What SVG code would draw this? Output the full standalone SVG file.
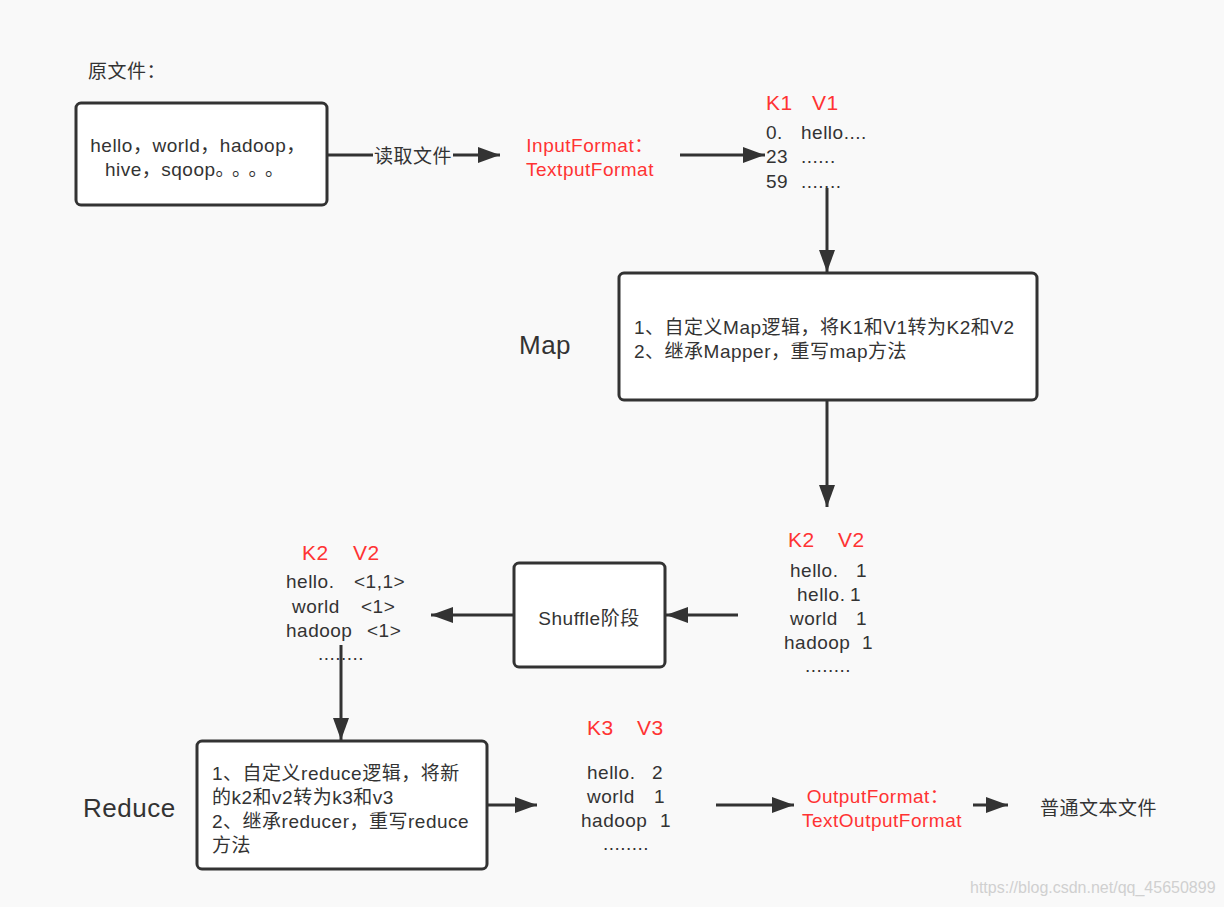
<svg xmlns="http://www.w3.org/2000/svg" width="1224" height="907" viewBox="0 0 1224 907">
<defs>
<style>
text{font-family:"Liberation Sans","Noto Sans CJK SC",sans-serif;fill:#333;font-size:19px;letter-spacing:0.5px}
.red{fill:#ff3333}
.big{font-size:21px}
.title{font-size:26px}
.c{text-anchor:middle}
.box{fill:#fff;stroke:#333;stroke-width:3}
.edge{stroke:#333;stroke-width:3;fill:none}
.wm{fill:#d0d0d0;font-size:16px;letter-spacing:0}
</style>
<marker id="arr" markerWidth="24" markerHeight="16" refX="22" refY="8" orient="auto" markerUnits="userSpaceOnUse">
<path d="M0,0 L22,8 L0,16 Z" fill="#333"/>
</marker>
</defs>
<rect width="1224" height="907" fill="#f9f9f9"/>

<g id="connectors">
<line class="edge" x1="327" y1="155" x2="500" y2="155" marker-end="url(#arr)"/>
<line class="edge" x1="680" y1="155" x2="765" y2="155" marker-end="url(#arr)"/>
<line class="edge" x1="827" y1="188" x2="827" y2="272" marker-end="url(#arr)"/>
<line class="edge" x1="827" y1="400" x2="827" y2="507" marker-end="url(#arr)"/>
<line class="edge" x1="738" y1="615" x2="666" y2="615" marker-end="url(#arr)"/>
<line class="edge" x1="514" y1="615" x2="431" y2="615" marker-end="url(#arr)"/>
<line class="edge" x1="341" y1="645" x2="341" y2="740" marker-end="url(#arr)"/>
<line class="edge" x1="487" y1="805" x2="537" y2="805" marker-end="url(#arr)"/>
<line class="edge" x1="716" y1="805" x2="794" y2="805" marker-end="url(#arr)"/>
<line class="edge" x1="973" y1="805" x2="1008" y2="805" marker-end="url(#arr)"/>
<rect x="373" y="143" width="80" height="24" fill="#f9f9f9"/>
<text x="413" y="163" class="c">读取文件</text>
</g>

<g id="source-label"><text x="88" y="78">原文件：</text></g>

<g id="source">
<rect class="box" x="76" y="103" width="251" height="102" rx="5"/>
<text x="198" y="152" class="c">hello，world，hadoop，</text>
<text x="198" y="176" class="c">hive，sqoop<tspan style="letter-spacing:7px">。。。。</tspan></text>
</g>

<g id="inputformat">
<text x="590" y="152" class="c red">InputFormat：</text>
<text x="590" y="176" class="c red">TextputFormat</text>
</g>

<g id="k1v1">
<text x="766" y="110" class="red big">K1</text>
<text x="812" y="110" class="red big">V1</text>
<text x="766" y="139">0.</text><text x="801" y="139">hello....</text>
<text x="766" y="163">23</text><text x="801" y="163">......</text>
<text x="766" y="188">59</text><text x="801" y="188">.......</text>
</g>

<g id="map-label"><text x="519" y="354" class="title">Map</text></g>

<g id="map">
<rect class="box" x="619" y="273" width="418" height="127" rx="5"/>
<text x="634" y="334">1、自定义Map逻辑，将K1和V1转为K2和V2</text>
<text x="634" y="358">2、继承Mapper，重写map方法</text>
</g>

<g id="k2v2-map">
<text x="788" y="547" class="red big">K2</text>
<text x="838" y="547" class="red big">V2</text>
<text x="790" y="577">hello.</text><text x="856" y="577">1</text>
<text x="797" y="601">hello.</text><text x="850" y="601">1</text>
<text x="790" y="625">world</text><text x="856" y="625">1</text>
<text x="784" y="649">hadoop</text><text x="862" y="649">1</text>
<text x="828" y="672" class="c">........</text>
</g>

<g id="shuffle">
<rect class="box" x="514" y="563" width="151" height="104" rx="5"/>
<text x="589" y="625" class="c">Shuffle阶段</text>
</g>

<g id="k2v2-shuffle">
<text x="302" y="560" class="red big">K2</text>
<text x="353" y="560" class="red big">V2</text>
<text x="286" y="588">hello.</text><text x="354" y="588">&lt;1,1&gt;</text>
<text x="292" y="613">world</text><text x="361" y="613">&lt;1&gt;</text>
<text x="286" y="637">hadoop</text><text x="367" y="637">&lt;1&gt;</text>
<text x="341" y="660" class="c">........</text>
</g>

<g id="reduce-label"><text x="83" y="817" class="title">Reduce</text></g>

<g id="reduce">
<rect class="box" x="197" y="741" width="290" height="128" rx="5"/>
<text x="212" y="780">1、自定义reduce逻辑，将新</text>
<text x="212" y="804">的k2和v2转为k3和v3</text>
<text x="212" y="828">2、继承reducer，重写reduce</text>
<text x="212" y="852">方法</text>
</g>

<g id="k3v3">
<text x="587" y="735" class="red big">K3</text>
<text x="637" y="735" class="red big">V3</text>
<text x="587" y="779">hello.</text><text x="652" y="779">2</text>
<text x="587" y="803">world</text><text x="654" y="803">1</text>
<text x="581" y="827">hadoop</text><text x="660" y="827">1</text>
<text x="626" y="850" class="c">........</text>
</g>

<g id="outputformat">
<text x="878" y="803" class="c red">OutputFormat：</text>
<text x="882" y="827" class="c red">TextOutputFormat</text>
</g>

<g id="textfile"><text x="1040" y="815">普通文本文件</text></g>

<text x="970" y="893" class="wm">https://blog.csdn.net/qq_45650899</text>
</svg>
